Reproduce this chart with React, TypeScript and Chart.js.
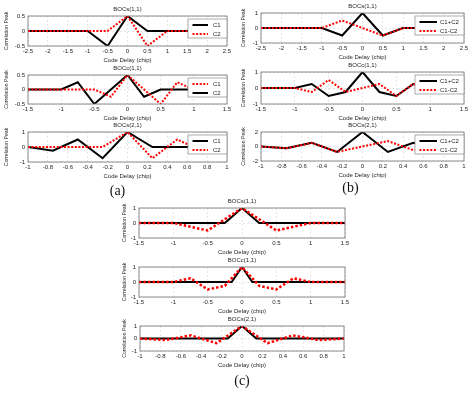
import React, { useEffect, useRef } from 'react';
import { Chart, registerables } from 'chart.js';
Chart.register(...registerables);

const FONT = '"Liberation Sans", Arial, Helvetica, sans-serif';
const SERIF = '"Liberation Serif", "Times New Roman", serif';
const TXT = '#262626';
const RED = '#ff0000';
const BLACK = '#000000';

// ---------- data ----------
// (a) BOCs(1,1)
const A1_X = [-2.5, -1, -0.5, 0, 0.5, 1, 2.5];
const A1_C1 = [0, 0, -0.5, 0.5, 0, 0, 0];
const A1_C2 = [0, 0, 0, 0.5, -0.5, 0, 0];
// (a) BOCc(1,1)
const A2_X = [-1.5, -1, -0.75, -0.5, -0.25, 0, 0.25, 0.5, 0.75, 1, 1.5];
const A2_C1 = [0, 0, 0, 0, -0.25, 0.5, 0, -0.5, 0.25, 0, 0];
const A2_C2 = [0, 0, 0.25, -0.5, 0, 0.5, -0.25, 0, 0, 0, 0];
// (a) BOCs(2,1)
const A3_X = [-1, -0.75, -0.5, -0.25, 0, 0.25, 0.5, 0.75, 1];
const A3_C1 = [0, -0.25, 0.5, -0.75, 1, 0, 0, 0, 0];
const A3_C2 = [0, 0, 0, 0, 1, -0.75, 0.5, -0.25, 0];
// (b) BOCs(1,1)
const B1_X = [-2.5, -1, -0.5, 0, 0.5, 1, 2.5];
const B1_SUM = [0, 0, -0.5, 1, -0.5, 0, 0];
const B1_DIFF = [0, 0, 0.5, 0, -0.5, 0, 0];
// (b) BOCc(1,1)
const B2_X = [-1.5, -1, -0.75, -0.5, -0.25, 0, 0.25, 0.5, 0.75, 1, 1.5];
const B2_SUM = [0, 0, 0.25, -0.5, -0.25, 1, -0.25, -0.5, 0.25, 0, 0];
const B2_DIFF = [0, 0, -0.25, 0.5, -0.25, 0, 0.25, -0.5, 0.25, 0, 0];
// (b) BOCs(2,1)
const B3_X = [-1, -0.75, -0.5, -0.25, 0, 0.25, 0.5, 0.75, 1];
const B3_SUM = [0, -0.25, 0.5, -0.75, 2, -0.75, 0.5, -0.25, 0];
const B3_DIFF = [0, -0.25, 0.5, -0.75, 0, 0.75, -0.5, 0.25, 0];
// (c) BOCs(1,1)
const C1_NX = [-1.5, -0.25, 0, 0.25, 1.5];
const C1_NY = [0, 0, 1, 0, 0];
const C1_AX = [-1.5, -1, -0.5, 0, 0.5, 1, 1.5];
const C1_AY = [0, 0, -0.5, 1, -0.5, 0, 0];
// (c) BOCc(1,1)
const C2_NX = [-1.5, -0.15, 0, 0.15, 1.5];
const C2_NY = [0, 0, 1, 0, 0];
const C2_AX = [-1.5, -1, -0.75, -0.5, -0.25, 0, 0.25, 0.5, 0.75, 1, 1.5];
const C2_AY = [0, 0, 0.25, -0.5, -0.25, 1, -0.25, -0.5, 0.25, 0, 0];
// (c) BOCs(2,1)
const C3_NX = [-1, -0.14, 0, 0.14, 1];
const C3_NY = [0, 0, 1, 0, 0];
const C3_AX = [-1, -0.75, -0.5, -0.25, 0, 0.25, 0.5, 0.75, 1];
const C3_AY = [0, -0.125, 0.25, -0.375, 1, -0.375, 0.25, -0.125, 0];

type Style = 'solid' | 'dot' | 'dotBig';
type Series = { label: string; xs: number[]; ys: number[]; style: Style };
type Panel = {
  title: string;
  x: [number, number, number];
  y: [number, number, number];
  series: Series[];
  legendW: number; // 0 = no legend
  pl: number; pr: number; pt: number; pb: number;
  yTitleX: number;
};

const LM = 28, RM = 9, TM = 12, BM = 20;

const panels: Panel[] = [
  { title: 'BOCs(1,1)', x: [-2.5, 2.5, 0.5], y: [-0.5, 0.5, 0.5], legendW: 39, pl: 28, pr: 227, pt: 16, pb: 46, yTitleX: 6.7,
    series: [{ label: 'C1', xs: A1_X, ys: A1_C1, style: 'solid' }, { label: 'C2', xs: A1_X, ys: A1_C2, style: 'dot' }] },
  { title: 'BOCc(1,1)', x: [-1.5, 1.5, 0.5], y: [-0.5, 0.5, 0.5], legendW: 39, pl: 28, pr: 227, pt: 75, pb: 104, yTitleX: 6.7,
    series: [{ label: 'C1', xs: A2_X, ys: A2_C1, style: 'dot' }, { label: 'C2', xs: A2_X, ys: A2_C2, style: 'solid' }] },
  { title: 'BOCs(2,1)', x: [-1, 1, 0.2], y: [-1, 1, 1], legendW: 39, pl: 28, pr: 227, pt: 132, pb: 162, yTitleX: 6.7,
    series: [{ label: 'C1', xs: A3_X, ys: A3_C1, style: 'solid' }, { label: 'C2', xs: A3_X, ys: A3_C2, style: 'dot' }] },
  { title: 'BOCs(1,1)', x: [-2.5, 2.5, 0.5], y: [-1, 1, 1], legendW: 49, pl: 261, pr: 464, pt: 13, pb: 43, yTitleX: 243.7,
    series: [{ label: 'C1+C2', xs: B1_X, ys: B1_SUM, style: 'solid' }, { label: 'C1-C2', xs: B1_X, ys: B1_DIFF, style: 'dot' }] },
  { title: 'BOCc(1,1)', x: [-1.5, 1.5, 0.5], y: [-1, 1, 1], legendW: 49, pl: 261, pr: 464, pt: 72, pb: 104, yTitleX: 243.7,
    series: [{ label: 'C1+C2', xs: B2_X, ys: B2_SUM, style: 'solid' }, { label: 'C1-C2', xs: B2_X, ys: B2_DIFF, style: 'dot' }] },
  { title: 'BOCs(2,1)', x: [-1, 1, 0.2], y: [-2, 2, 2], legendW: 49, pl: 261, pr: 464, pt: 132, pb: 161, yTitleX: 243.7,
    series: [{ label: 'C1+C2', xs: B3_X, ys: B3_SUM, style: 'solid' }, { label: 'C1-C2', xs: B3_X, ys: B3_DIFF, style: 'dot' }] },
  { title: 'BOCs(1,1)', x: [-1.5, 1.5, 0.5], y: [-1, 1, 1], legendW: 0, pl: 139, pr: 345, pt: 208, pb: 238, yTitleX: 125,
    series: [{ label: 'narrow', xs: C1_NX, ys: C1_NY, style: 'solid' }, { label: 'acf', xs: C1_AX, ys: C1_AY, style: 'dotBig' }] },
  { title: 'BOCc(1,1)', x: [-1.5, 1.5, 0.5], y: [-1, 1, 1], legendW: 0, pl: 139, pr: 345, pt: 267, pb: 297, yTitleX: 125,
    series: [{ label: 'narrow', xs: C2_NX, ys: C2_NY, style: 'solid' }, { label: 'acf', xs: C2_AX, ys: C2_AY, style: 'dotBig' }] },
  { title: 'BOCs(2,1)', x: [-1, 1, 0.2], y: [-1, 1, 1], legendW: 0, pl: 140, pr: 344, pt: 326, pb: 351, yTitleX: 125,
    series: [{ label: 'narrow', xs: C3_NX, ys: C3_NY, style: 'solid' }, { label: 'acf', xs: C3_AX, ys: C3_AY, style: 'dotBig' }] },
];

const fmt = (v: any) => {
  const r = Math.round(Number(v) * 100) / 100;
  return r === 0 ? '0' : String(r);
};

function styleOf(s: Style) {
  if (s === 'solid') return { color: BLACK, width: 2, dash: [] as number[] };
  if (s === 'dot') return { color: RED, width: 2, dash: [2, 1.6] };
  return { color: RED, width: 2.5, dash: [2.5, 2] };
}

function makeConfig(p: Panel): any {
  const ytFont = { family: FONT, size: 5.2 };
  const ytPad = p.yTitleX - (p.pl - LM) - (5.2 * 1.2) / 2;
  const frame = {
    id: 'frame' + p.title,
    afterDatasetsDraw(chart: any) {
      const { ctx, chartArea: a } = chart;
      ctx.save();
      ctx.strokeStyle = '#707070';
      ctx.lineWidth = 0.8;
      ctx.strokeRect(a.left, a.top, a.right - a.left, a.bottom - a.top);
      ctx.fillStyle = TXT;
      ctx.font = `6px ${FONT}`;
      ctx.textAlign = 'center';
      ctx.textBaseline = 'middle';
      ctx.fillText(p.title, (a.left + a.right) / 2, a.top - 6.5);
      if (p.legendW > 0) {
        const w = p.legendW, h = 19;
        const l = a.right - w, t = a.top + 3;
        ctx.fillStyle = '#ffffff';
        ctx.fillRect(l, t, w, h);
        ctx.strokeStyle = '#8a8a8a';
        ctx.lineWidth = 0.7;
        ctx.strokeRect(l, t, w, h);
        p.series.forEach((s, i) => {
          const st = styleOf(s.style);
          const yy = t + 6 + i * 9;
          ctx.beginPath();
          ctx.strokeStyle = st.color;
          ctx.lineWidth = st.width;
          ctx.setLineDash(st.dash);
          ctx.moveTo(l + 4.5, yy);
          ctx.lineTo(l + (w > 40 ? 22 : 20), yy);
          ctx.stroke();
          ctx.setLineDash([]);
          ctx.fillStyle = TXT;
          ctx.textAlign = 'left';
          ctx.fillText(s.label, l + 25, yy);
        });
      }
      ctx.restore();
    },
  };
  return {
    type: 'line',
    data: {
      datasets: p.series.map((s) => {
        const st = styleOf(s.style);
        return {
          label: s.label,
          data: s.xs.map((x, i) => ({ x, y: s.ys[i] })),
          borderColor: st.color,
          backgroundColor: st.color,
          borderWidth: st.width,
          borderDash: st.dash,
          borderCapStyle: 'butt',
          pointRadius: 0,
          fill: false,
          tension: 0,
          order: s.style === 'solid' ? 1 : 0,
        };
      }),
    },
    options: {
      animation: false,
      responsive: false,
      maintainAspectRatio: false,
      devicePixelRatio: 1,
      layout: { padding: { top: TM, right: RM, left: 0, bottom: 0 } },
      plugins: { legend: { display: false }, title: { display: false }, tooltip: { enabled: false } },
      scales: {
        x: {
          type: 'linear',
          min: p.x[0], max: p.x[1],
          ticks: { stepSize: p.x[2], callback: fmt, font: { family: FONT, size: 6 }, color: TXT, padding: 2, maxRotation: 0, autoSkip: false },
          grid: { color: '#dcdcdc', lineWidth: 0.7, drawTicks: false },
          border: { display: false, dash: [2, 2] },
          title: { display: true, text: 'Code Delay (chip)', font: { family: FONT, size: 6 }, color: TXT, padding: { top: 0, bottom: BM - 14 - 3.6 } },
          afterFit: (sc: any) => { sc.height = BM; },
        },
        y: {
          type: 'linear',
          min: p.y[0], max: p.y[1],
          ticks: { stepSize: p.y[2], callback: fmt, font: { family: FONT, size: 6 }, color: TXT, padding: 3, autoSkip: false },
          grid: { color: '#dcdcdc', lineWidth: 0.7, drawTicks: false },
          border: { display: false, dash: [2, 2] },
          title: { display: true, text: 'Correlation Peak', font: ytFont, color: TXT, padding: { top: ytPad, bottom: 0 } },
          afterFit: (sc: any) => { sc.width = LM; },
        },
      },
    },
    plugins: [frame],
  };
}

function PanelChart({ p }: { p: Panel }) {
  const ref = useRef<HTMLCanvasElement>(null);
  const W = p.pr - p.pl + LM + RM;
  const H = p.pb - p.pt + TM + BM;
  useEffect(() => {
    const chart = new Chart(ref.current as HTMLCanvasElement, makeConfig(p));
    return () => chart.destroy();
  }, []);
  return (
    <canvas
      ref={ref}
      width={W}
      height={H}
      style={{ position: 'absolute', left: p.pl - LM, top: p.pt - TM, width: W, height: H }}
    />
  );
}

const panelLabels = [
  { text: '(a)', x: 117.5, y: 191 },
  { text: '(b)', x: 350.5, y: 188 },
  { text: '(c)', x: 242, y: 381 },
];

export default function App() {
  return (
    <div style={{ position: 'absolute', left: 0, top: 0, width: 474, height: 393, background: '#ffffff', overflow: 'hidden' }}>
      {panels.map((p, i) => (
        <PanelChart key={i} p={p} />
      ))}
      {panelLabels.map((l) => (
        <div
          key={l.text}
          style={{
            position: 'absolute', left: l.x, top: l.y, transform: 'translate(-50%, -50%)',
            fontFamily: SERIF, fontSize: 14, lineHeight: 1, color: '#111', whiteSpace: 'nowrap',
          }}
        >
          {l.text}
        </div>
      ))}
    </div>
  );
}
